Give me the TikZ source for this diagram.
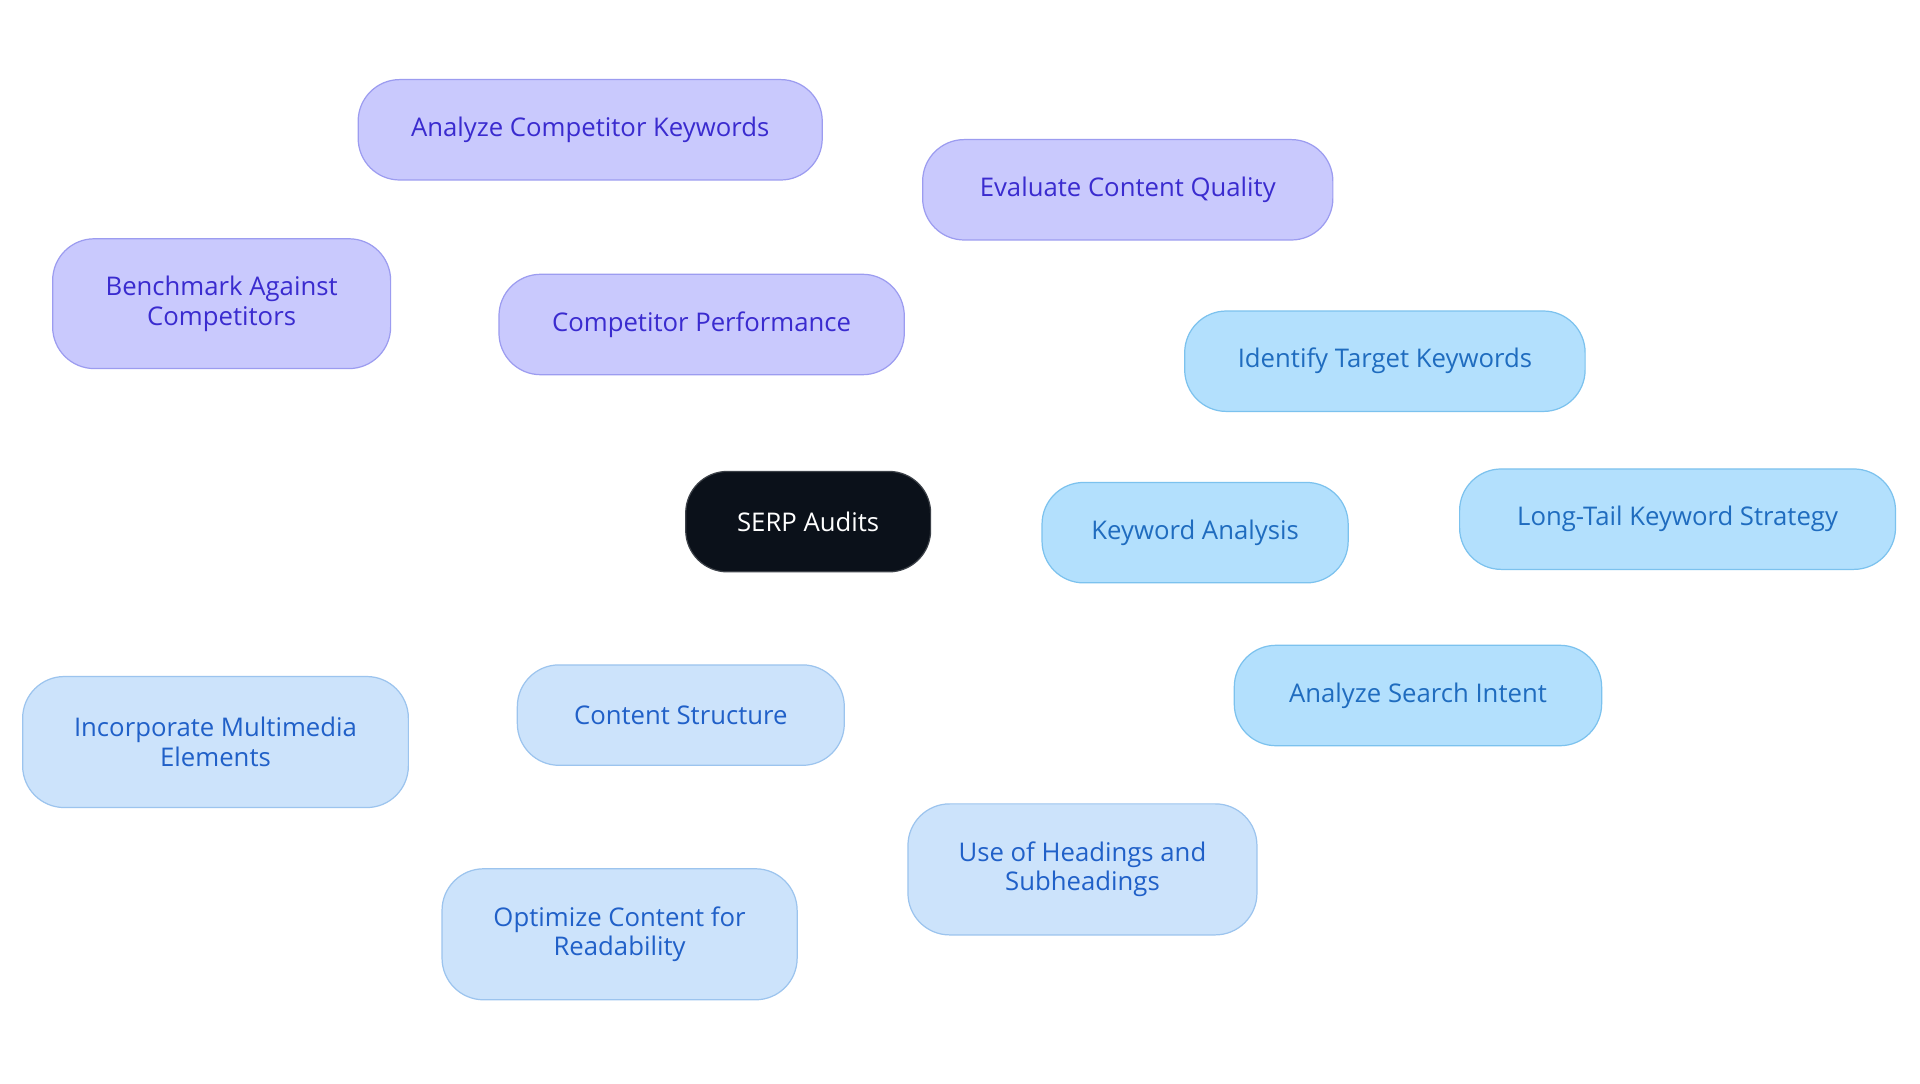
\documentclass[tikz,border=0pt]{standalone}
\usepackage{fontspec}
\setmainfont{Open Sans}
\usetikzlibrary{backgrounds}
\definecolor{pf}{HTML}{C9C9FD}\definecolor{pb}{HTML}{9C9CF0}\definecolor{pt}{HTML}{3A2BCF}
\definecolor{bf}{HTML}{B3E0FD}\definecolor{bb}{HTML}{7CC2EE}\definecolor{bt}{HTML}{1F6CBF}
\definecolor{lf}{HTML}{CCE3FB}\definecolor{lb}{HTML}{9CC4EE}\definecolor{lt}{HTML}{2060C8}
\definecolor{cf}{HTML}{0B111A}
\tikzset{
 box/.style={rounded corners=34pt,line width=1pt,align=center,font=\fontsize{21}{24}\selectfont,inner sep=0pt},
 pnode/.style={box,fill=pf,draw=pb,text=pt},
 bnode/.style={box,fill=bf,draw=bb,text=bt},
 lnode/.style={box,fill=lf,draw=lb,text=lt},
 pe/.style={draw=pb,line width=2.5pt},
 be/.style={draw=bb,line width=2.5pt},
 le/.style={draw=lb,line width=2.5pt},
}
\begin{document}
\begin{tikzpicture}[x=1pt,y=-1pt]
\useasboundingbox[fill=white] (0,0) rectangle (1568,885);
\node[box,fill=cf,draw=cf!80,text=white,minimum width=200pt,minimum height=82pt] (c) at (660,426) {SERP Audits};
\node[pnode,minimum width=331pt,minimum height=82pt] (cp) at (573,265) {Competitor Performance};
\node[pnode,minimum width=379pt,minimum height=82pt] (ack) at (482,106) {Analyze Competitor Keywords};
\node[pnode,minimum width=335pt,minimum height=82pt] (ecq) at (921,155) {Evaluate Content Quality};
\node[pnode,minimum width=276pt,minimum height=106pt] (bac) at (181,248) {Benchmark Against\\Competitors};
\node[bnode,minimum width=250pt,minimum height=82pt] (ka) at (976,435) {Keyword Analysis};
\node[bnode,minimum width=327pt,minimum height=82pt] (itk) at (1131,295) {Identify Target Keywords};
\node[bnode,minimum width=356pt,minimum height=82pt] (lt) at (1370,424) {Long-Tail Keyword Strategy};
\node[bnode,minimum width=300pt,minimum height=82pt] (asi) at (1158,568) {Analyze Search Intent};
\node[lnode,minimum width=267pt,minimum height=82pt] (cs) at (556,584) {Content Structure};
\node[lnode,minimum width=315pt,minimum height=107pt] (ime) at (176,606) {Incorporate Multimedia\\Elements};
\node[lnode,minimum width=290pt,minimum height=107pt] (ocr) at (506,763) {Optimize Content for\\Readability};
\node[lnode,minimum width=285pt,minimum height=107pt] (uhs) at (884,710) {Use of Headings and\\Subheadings};
\begin{scope}[on background layer]
\path[pe] (c.center)--(cp.center) (cp.center)--(ack.center) (cp.center)--(ecq.center) (cp.center)--(bac.center);
\path[be] (c.center)--(ka.center) (ka.center)--(itk.center) (ka.center)--(lt.center) (ka.center)--(asi.center);
\path[le] (c.center)--(cs.center) (cs.center)--(ime.center) (cs.center)--(ocr.center) (cs.center)--(uhs.center);
\end{scope}
\end{tikzpicture}
\end{document}
